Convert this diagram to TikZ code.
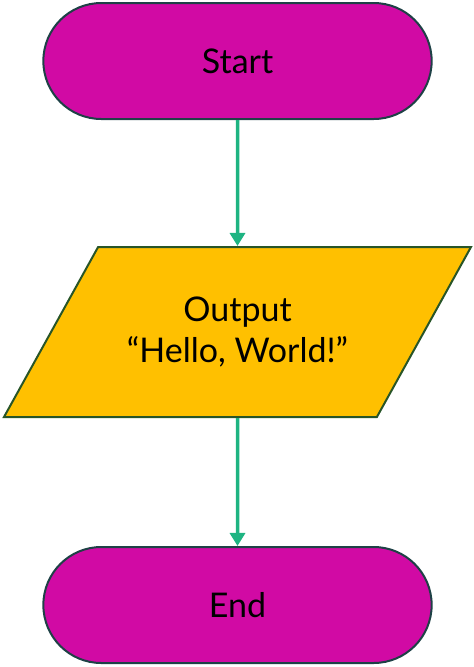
\documentclass[tikz,border=0pt]{standalone}
\usepackage{fontspec}
\setmainfont{Lato}
\usetikzlibrary{positioning, arrows.meta, shapes.misc, shapes.geometric}
\definecolor{termfill}{RGB}{209,10,164}
\definecolor{termline}{RGB}{30,65,70}
\definecolor{iofill}{RGB}{255,192,0}
\definecolor{ioline}{RGB}{40,85,40}
\definecolor{flowgreen}{RGB}{30,180,130}

\begin{document}
\begin{tikzpicture}[x=1pt, y=1pt,
    terminal/.style={rounded rectangle, draw=termline, line width=2pt, fill=termfill,
        minimum width=395pt, minimum height=116pt, font=\fontsize{34}{40}\selectfont},
    io/.style={trapezium, trapezium left angle=45, trapezium right angle=135,
        trapezium stretches=true, draw=ioline, line width=2pt, fill=iofill,
        minimum width=469pt, minimum height=170pt, align=center,
        font=\fontsize{34}{41}\selectfont},
    flow/.style={-{Triangle[width=15pt, length=13pt]}, draw=flowgreen, line width=3.5pt}]

        \useasboundingbox (0,0) rectangle (474,-667);

        % Start
        \node[terminal] (start) at (237.5,-61) {Start};

        % Output step
        \node[io] (out) at (237.5,-332) {Output\\“Hello, World!”};

        % End
        \node[terminal] (stop) at (237.5,-605) {End};

        % Arrows
        \draw[flow] (start) -- (out);
        \draw[flow] (out) -- (stop);

    \end{tikzpicture}
\end{document}
